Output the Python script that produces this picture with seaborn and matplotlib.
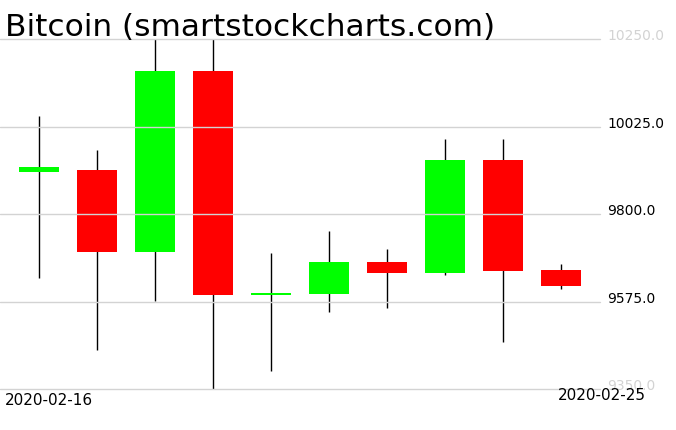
import matplotlib
matplotlib.use("Agg")
import matplotlib.pyplot as plt
import seaborn as sns
import pandas as pd

# daily OHLC values
dates = ["2020-02-16", "2020-02-17", "2020-02-18", "2020-02-19", "2020-02-20",
         "2020-02-21", "2020-02-22", "2020-02-23", "2020-02-24", "2020-02-25"]
opens = [9907, 9913, 9703, 10168, 9592, 9595, 9677, 9649, 9938, 9656]
highs = [10052, 9966, 10250, 10250, 9700, 9757, 9710, 9992, 9992, 9671]
lows = [9636, 9450, 9577, 9350, 9396, 9548, 9558, 9644, 9471, 9608]
closes = [9920, 9703, 10168, 9592, 9596, 9677, 9649, 9938, 9654, 9615]

y_ticks = [9350, 9575, 9800, 10025, 10250]

sns.set_style("white")
plt.rcParams['font.family'] = ['DejaVu Sans']
plt.rcParams['text.color'] = 'black'

df = pd.DataFrame({"date": dates, "open": opens, "high": highs, "low": lows, "close": closes})
df["x"] = range(len(df))
df["up"] = df["close"] >= df["open"]

fig = plt.figure(figsize=(6.76, 4.31), dpi=100)
ax = fig.add_axes([0, 0.0951, 0.8876, 0.8119])

# 影线
ax.vlines(df["x"], df["low"], df["high"], color="black", linewidth=1.0, zorder=1)

# 实体
colors = ["#00ff00" if u else "#ff0000" for u in df["up"]]
bottoms = df[["open", "close"]].min(axis=1)
heights = (df["close"] - df["open"]).abs().clip(lower=3)
ax.bar(df["x"], heights, bottom=bottoms, width=0.69, color=colors,
       linewidth=0, zorder=2)

# 网格线画在实体上面
for v in y_ticks:
    ax.axhline(v, color="#d3d3d3", linewidth=1.0, zorder=3, clip_on=False)

ax.set_xlim(-0.672, 9.672)
ax.set_ylim(9350, 10250)
ax.set_xticks([])
ax.yaxis.tick_right()
ax.set_yticks(y_ticks)
ax.set_yticklabels([f"{v:.1f}" for v in y_ticks], fontsize=10)
ax.tick_params(axis="y", length=0, pad=5)
for i, lab in enumerate(ax.get_yticklabels()):
    lab.set_va("baseline")
    if i == 0 or i == len(y_ticks) - 1:
        lab.set_color("#d3d3d3")
    else:
        lab.set_color("black")
for s in ax.spines.values():
    s.set_visible(False)
ax.patch.set_alpha(0)

fig.text(0.007, 0.9165, "Bitcoin (smartstockcharts.com)", fontsize=22.5,
         va="baseline", ha="left", color="black")
fig.text(0.007, 0.060, dates[0], fontsize=11, va="baseline", ha="left", color="black")
fig.text(0.955, 0.072, dates[-1], fontsize=11, va="baseline", ha="right", color="black")

fig.savefig("out.png", dpi=100)
